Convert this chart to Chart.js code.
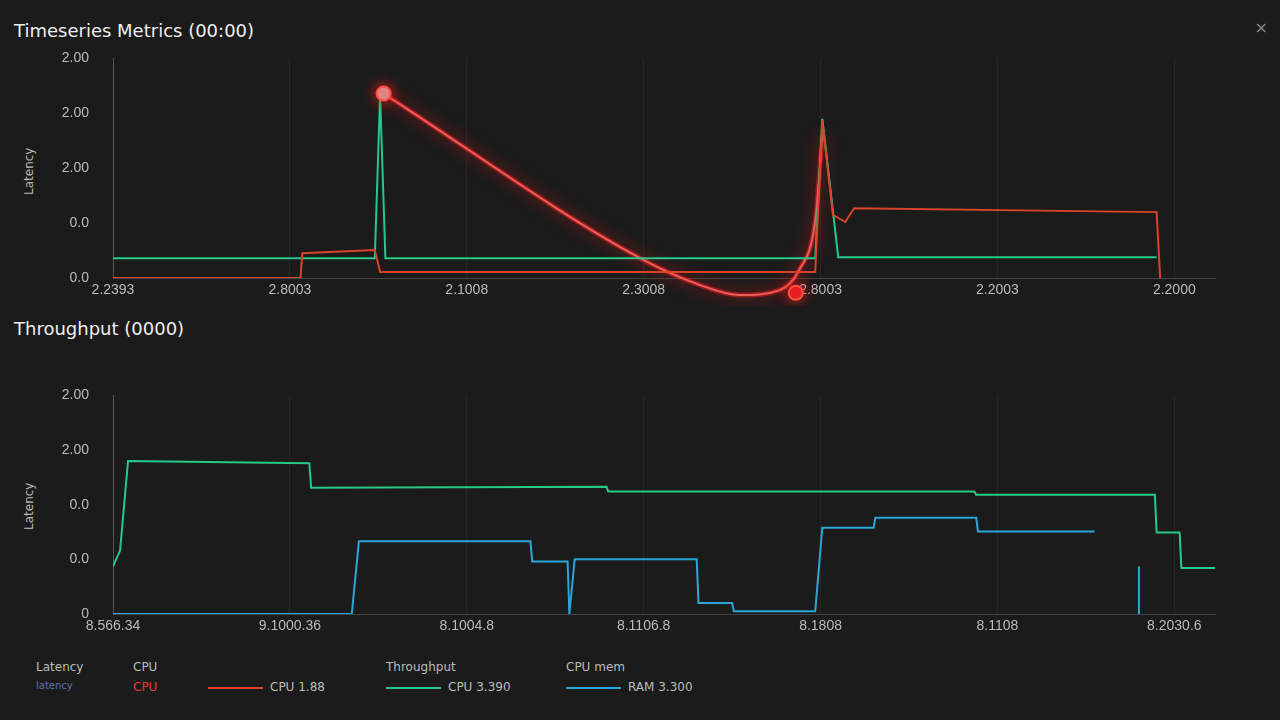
<!DOCTYPE html>
<html>
<head>
<meta charset="utf-8">
<script src="https://cdn.jsdelivr.net/npm/chart.js@4"></script>
<style>
  body { margin:0; width:1280px; height:720px; background:#1b1b1b; overflow:hidden; font-family:"DejaVu Sans", sans-serif; color:#ddd; }
  .title { position:absolute; left:14px; font-size:18px; color:#eee; }
  .ylab { position:absolute; left:22px; font-size:12px; color:#bbb; transform:rotate(-90deg); transform-origin:left top; }
  .box { position:absolute; left:0; width:1280px; }
  .legend { position:absolute; top:660px; left:0; width:1280px; height:40px; font-size:12px; color:#bbb; }
  .legend span { position:absolute; }
  .sw { display:inline-block; height:2px; width:55px; }
  .close { position:absolute; right:12px; top:18px; color:#888; font-size:16px; }
</style>
</head>
<body>
<div class="title" style="top:20px">Timeseries Metrics (00:00)</div>
<div class="title" style="top:318px">Throughput (0000)</div>
<div class="close">×</div>
<div class="ylab" style="top:195px">Latency</div>
<div class="ylab" style="top:530px">Latency</div>
<div class="box" style="top:34px;height:272px"><canvas id="top"></canvas></div>
<div class="box" style="top:371px;height:271px"><canvas id="bottom"></canvas></div>
<div class="legend">
  <span style="left:36px;top:0">Latency</span>
  <span style="left:36px;top:20px;color:#5a6fb0;font-size:10px">latency</span>
  <span style="left:133px;top:0">CPU</span>
  <span style="left:133px;top:20px;color:#e33">CPU</span>
  <span style="left:208px;top:20px"><i class="sw" style="background:#e0452a;vertical-align:middle"></i></span>
  <span style="left:270px;top:20px">CPU 1.88</span>
  <span style="left:386px;top:0">Throughput</span>
  <span style="left:386px;top:20px"><i class="sw" style="background:#26c98a;vertical-align:middle"></i></span>
  <span style="left:448px;top:20px">CPU 3.390</span>
  <span style="left:566px;top:0">CPU mem</span>
  <span style="left:566px;top:20px"><i class="sw" style="background:#2aa7d8;vertical-align:middle"></i></span>
  <span style="left:628px;top:20px">RAM 3.300</span>
</div>
<script>
// top panel
const topXLabels = ["2.2393", "2.8003", "2.1008", "2.3008", "2.8003", "2.2003", "2.2000"];
const topYLabels = ["0.0", "0.0", "2.00", "2.00", "2.00"];
const topGreenX = [0, 1.48, 1.51, 1.54, 3.97, 4.01, 4.1, 5.9];
const topGreenY = [0.36, 0.36, 3.33, 0.36, 0.36, 2.9, 0.38, 0.38];
const topRedX = [0, 1.06, 1.07, 1.48, 1.51, 3.97, 4.01, 4.07, 4.14, 4.19, 5.9, 5.92];
const topRedY = [0, 0, 0.45, 0.51, 0.11, 0.11, 2.87, 1.15, 1.02, 1.27, 1.2, 0];
const glowX = [1.53, 2.98, 3.32, 3.54, 3.77, 3.88, 3.97, 4.01];
const glowY = [3.36, 0.36, -0.13, -0.31, -0.22, 0.15, 1.05, 2.6];
const markerX = [1.53, 3.86];
const markerY = [3.36, -0.27];
const markerColors = ['#d99', '#e02020'];

// bottom panel
const botXLabels = ["8.566.34", "9.1000.36", "8.1004.8", "8.1106.8", "8.1808", "8.1108", "8.2030.6"];
const botYLabels = ["0", "0.0", "0.0", "2.00", "2.00"];
const botGreenX = [0, 0.04, 0.085, 1.11, 1.12, 2.79, 2.8, 4.87, 4.88, 5.89, 5.9, 6.03, 6.04, 6.23];
const botGreenY = [0.87, 1.16, 2.8, 2.76, 2.31, 2.33, 2.24, 2.24, 2.18, 2.18, 1.49, 1.49, 0.84, 0.84];
const botBlueX = [0, 1.35, 1.39, 2.36, 2.37, 2.57, 2.58, 2.61, 3.3, 3.31, 3.5, 3.51, 3.97, 4.0, 4.01, 4.3, 4.31, 4.88, 4.89, 5.55, 5.6, 5.8, 5.8];
const botBlueY = [0, 0, 1.33, 1.33, 0.96, 0.96, 0, 1.0, 1.0, 0.2, 0.2, 0.05, 0.05, 1.2, 1.58, 1.58, 1.76, 1.76, 1.51, 1.51, null, 0.87, 0];

const pts = (xs, ys) => xs.map((x, i) => ({ x, y: ys[i] }));

const glowPlugin = {
    id: 'glow',
    beforeDatasetDraw(chart, args) {
        const ds = chart.data.datasets[args.index];
        if (ds.glow) {
            chart.ctx.save();
            chart.ctx.shadowColor = 'rgba(255,30,30,0.9)';
            chart.ctx.shadowBlur = ds.glow;
        }
    },
    afterDatasetDraw(chart, args) {
        if (chart.data.datasets[args.index].glow) chart.ctx.restore();
    },
    // markers can sit below the axis, where chart.js skips points
    afterDatasetsDraw(chart) {
        const { ctx, scales } = chart;
        ctx.save();
        ctx.shadowColor = 'rgba(255,30,30,0.9)';
        ctx.shadowBlur = 14;
        markerX.forEach((x, i) => {
            ctx.beginPath();
            ctx.arc(scales.x.getPixelForValue(x), scales.y.getPixelForValue(markerY[i]), 7, 0, Math.PI * 2);
            ctx.fillStyle = markerColors[i];
            ctx.fill();
            ctx.lineWidth = 2;
            ctx.strokeStyle = '#ff5040';
            ctx.stroke();
        });
        ctx.restore();
    }
};

function axes(xLabels, yLabels) {
    return {
        x: {
            type: 'linear', min: 0, max: 6.23,
            afterBuildTicks: s => { s.ticks = [0, 1, 2, 3, 4, 5, 6].map(v => ({ value: v })); },
            afterFit: s => { s.height = 28; },
            ticks: { color: '#bbb', font: { size: 14 }, maxRotation: 0, padding: 4, callback: (v, i) => xLabels[i] },
            grid: { color: 'rgba(255,255,255,0.05)', drawTicks: false },
            border: { color: '#444' }
        },
        y: {
            min: 0, max: 4,
            afterBuildTicks: s => { s.ticks = [0, 1, 2, 3, 4].map(v => ({ value: v })); },
            afterFit: s => { s.width = 113; },
            ticks: { color: '#bbb', font: { size: 14 }, padding: 16, callback: (v, i) => yLabels[i] },
            grid: { display: false },
            border: { color: '#555' }
        }
    };
}

const line = (data, color, w) => ({ data, borderColor: color, borderWidth: w || 2, pointRadius: 0, tension: 0, spanGaps: false });

new Chart(document.getElementById('top'), {
    type: 'line',
    data: {
        datasets: [
            line(pts(topRedX, topRedY), '#d8432a'),
            line(pts(topGreenX, topGreenY), '#26c98a'),
            Object.assign(line(pts(glowX, glowY), 'rgba(220,25,25,0.6)', 5), { clip: false, glow: 16, cubicInterpolationMode: 'monotone' }),
            Object.assign(line(pts(glowX, glowY), '#ffe0d8', 2), { clip: false, cubicInterpolationMode: 'monotone' })
        ]
    },
    options: {
        responsive: true, maintainAspectRatio: false, animation: false,
        layout: { padding: { top: 0, right: 65 } },
        plugins: { legend: { display: false }, tooltip: { enabled: false } },
        scales: axes(topXLabels, topYLabels)
    },
    plugins: [glowPlugin]
});

new Chart(document.getElementById('bottom'), {
    type: 'line',
    data: {
        datasets: [
            line(pts(botGreenX, botGreenY), '#26c98a'),
            line(pts(botBlueX, botBlueY), '#2aa7d8')
        ]
    },
    options: {
        responsive: true, maintainAspectRatio: false, animation: false,
        layout: { padding: { top: 0, right: 65 } },
        plugins: { legend: { display: false }, tooltip: { enabled: false } },
        scales: axes(botXLabels, botYLabels)
    }
});
</script>
</body>
</html>
